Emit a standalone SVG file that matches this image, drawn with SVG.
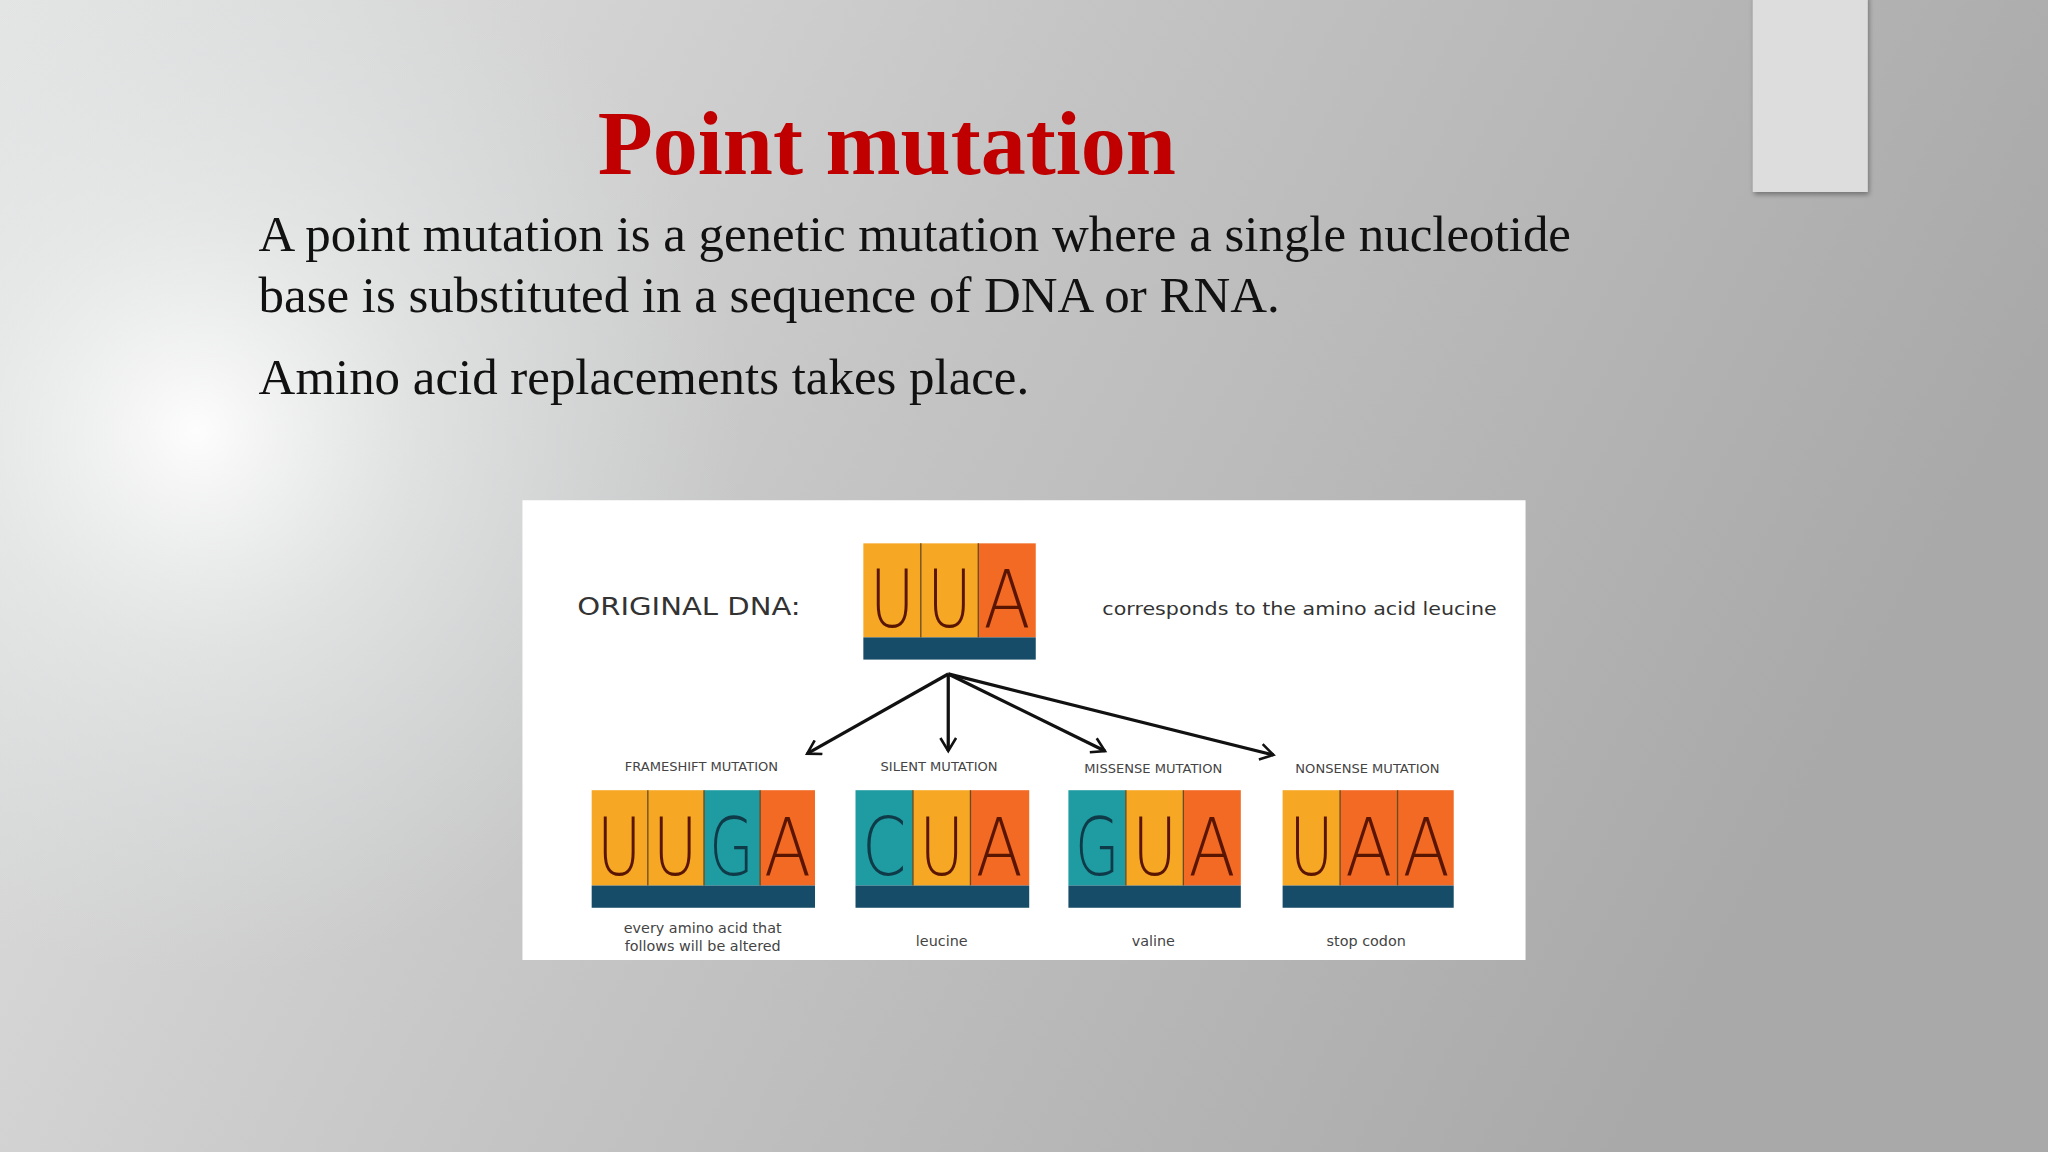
<svg xmlns="http://www.w3.org/2000/svg" width="2048" height="1152" viewBox="0 0 2048 1152">
<defs>
<linearGradient id="bg" x1="0" y1="0" x2="1" y2="0.3">
<stop offset="0" stop-color="#e4e4e4"/><stop offset="0.5" stop-color="#c4c4c4"/><stop offset="1" stop-color="#a9a9a9"/>
</linearGradient>
<radialGradient id="glow" cx="150" cy="330" r="420" gradientUnits="userSpaceOnUse">
<stop offset="0" stop-color="#ffffff" stop-opacity="0.95"/><stop offset="0.4" stop-color="#eef0f0" stop-opacity="0.5"/><stop offset="1" stop-color="#dde4e6" stop-opacity="0"/>
</radialGradient>
<filter id="sh"><feDropShadow dx="1" dy="2" stdDeviation="2" flood-opacity="0.35"/></filter>
<marker id="ah" markerWidth="14" markerHeight="14" refX="11" refY="7" orient="auto" markerUnits="userSpaceOnUse">
<path d="M1,1 L11,7 L1,13" fill="none" stroke="#111" stroke-width="2"/>
</marker>
<style>
.body{font-family:"Liberation Serif",serif;font-size:39px;fill:#111}
.s{font-family:"DejaVu Sans","Liberation Sans",sans-serif;fill:#333}
.lab{font-size:10px;text-anchor:middle;fill:#444}
.sub{font-size:11px;text-anchor:middle;fill:#444}
.L{font-family:"DejaVu Sans",sans-serif;font-weight:200;font-size:62px;text-anchor:middle}
.o{fill:#5a1500}.t{fill:#0f3a48}
.y{fill:#f6a723}.r{fill:#f26a24}.c{fill:#1f9ba2}.d{fill:#174c68}
.cn{stroke:#111;stroke-width:2.5;fill:none;marker-end:url(#ah)}
</style>
</defs>
<g transform="scale(1.30612)">
<rect width="1568" height="882" fill="url(#bg)"/>
<rect width="1568" height="882" fill="url(#glow)"/>
<rect x="1342" y="-4" width="88" height="151" fill="#dddddd" filter="url(#sh)"/>
<text x="679" y="133" text-anchor="middle" font-family="Liberation Serif,serif" font-weight="bold" font-size="69" fill="#c00000">Point mutation</text>
<text class="body" x="198" y="192">A point mutation is a genetic mutation where a single nucleotide</text>
<text class="body" x="198" y="239">base is substituted in a sequence of DNA or RNA.</text>
<text class="body" x="198" y="302">Amino acid replacements takes place.</text>
<rect x="400" y="383" width="768" height="352" fill="#ffffff"/>
<g id="original">
<text class="s" x="442" y="471" font-size="19" textLength="171" lengthAdjust="spacingAndGlyphs">ORIGINAL DNA:</text>
<rect class="y" x="661" y="416" width="88" height="72"/><rect class="r" x="749" y="416" width="44" height="72"/>
<rect class="d" x="661" y="488" width="132" height="17"/>
<path d="M705,416V488M749,416V488" stroke="#6a4a20" stroke-width="1"/>
<text class="L o" x="683" y="480" textLength="34" lengthAdjust="spacingAndGlyphs">U</text>
<text class="L o" x="727" y="480" textLength="34" lengthAdjust="spacingAndGlyphs">U</text>
<text class="L o" x="771" y="480" textLength="36" lengthAdjust="spacingAndGlyphs">A</text>
<text class="s" x="844" y="471" font-size="14" textLength="302" lengthAdjust="spacingAndGlyphs">corresponds to the amino acid leucine</text>
</g>
<g id="connectors">
<line class="cn" x1="726" y1="516" x2="618" y2="577"/>
<line class="cn" x1="726" y1="516" x2="726" y2="575"/>
<line class="cn" x1="726" y1="516" x2="846" y2="575"/>
<line class="cn" x1="726" y1="516" x2="975" y2="578"/>
</g>
<g id="frameshift">
<text class="s lab" x="537" y="590">FRAMESHIFT MUTATION</text>
<rect class="y" x="453" y="605" width="86" height="73"/><rect class="c" x="539" y="605" width="43" height="73"/><rect class="r" x="582" y="605" width="42" height="73"/>
<rect class="d" x="453" y="678" width="171" height="17"/>
<path d="M496,605V678M539,605V678M582,605V678" stroke="#6a4a20" stroke-width="1"/>
<text class="L o" x="474" y="670" textLength="34" lengthAdjust="spacingAndGlyphs">U</text>
<text class="L o" x="517" y="670" textLength="34" lengthAdjust="spacingAndGlyphs">U</text>
<text class="L t" x="560" y="670" textLength="34" lengthAdjust="spacingAndGlyphs">G</text>
<text class="L o" x="603" y="670" textLength="36" lengthAdjust="spacingAndGlyphs">A</text>
<text class="s sub" x="538" y="714" font-size="10">every amino acid that</text>
<text class="s sub" x="538" y="728" font-size="10">follows will be altered</text>
</g>
<g id="silent">
<text class="s lab" x="719" y="590">SILENT MUTATION</text>
<rect class="c" x="655" y="605" width="44" height="73"/><rect class="y" x="699" y="605" width="44" height="73"/><rect class="r" x="743" y="605" width="45" height="73"/>
<rect class="d" x="655" y="678" width="133" height="17"/>
<path d="M699,605V678M743,605V678" stroke="#6a4a20" stroke-width="1"/>
<text class="L t" x="677" y="670" textLength="34" lengthAdjust="spacingAndGlyphs">C</text>
<text class="L o" x="721" y="670" textLength="34" lengthAdjust="spacingAndGlyphs">U</text>
<text class="L o" x="765" y="670" textLength="36" lengthAdjust="spacingAndGlyphs">A</text>
<text class="s sub" x="721" y="724">leucine</text>
</g>
<g id="missense">
<text class="s lab" x="883" y="592">MISSENSE MUTATION</text>
<rect class="c" x="818" y="605" width="44" height="73"/><rect class="y" x="862" y="605" width="44" height="73"/><rect class="r" x="906" y="605" width="44" height="73"/>
<rect class="d" x="818" y="678" width="132" height="17"/>
<path d="M862,605V678M906,605V678" stroke="#6a4a20" stroke-width="1"/>
<text class="L t" x="840" y="670" textLength="34" lengthAdjust="spacingAndGlyphs">G</text>
<text class="L o" x="884" y="670" textLength="34" lengthAdjust="spacingAndGlyphs">U</text>
<text class="L o" x="928" y="670" textLength="36" lengthAdjust="spacingAndGlyphs">A</text>
<text class="s sub" x="883" y="724">valine</text>
</g>
<g id="nonsense">
<text class="s lab" x="1047" y="592">NONSENSE MUTATION</text>
<rect class="y" x="982" y="605" width="44" height="73"/><rect class="r" x="1026" y="605" width="87" height="73"/>
<rect class="d" x="982" y="678" width="131" height="17"/>
<path d="M1026,605V678M1070,605V678" stroke="#6a4a20" stroke-width="1"/>
<text class="L o" x="1004" y="670" textLength="34" lengthAdjust="spacingAndGlyphs">U</text>
<text class="L o" x="1048" y="670" textLength="36" lengthAdjust="spacingAndGlyphs">A</text>
<text class="L o" x="1092" y="670" textLength="36" lengthAdjust="spacingAndGlyphs">A</text>
<text class="s sub" x="1046" y="724">stop codon</text>
</g>
</g>
</svg>
